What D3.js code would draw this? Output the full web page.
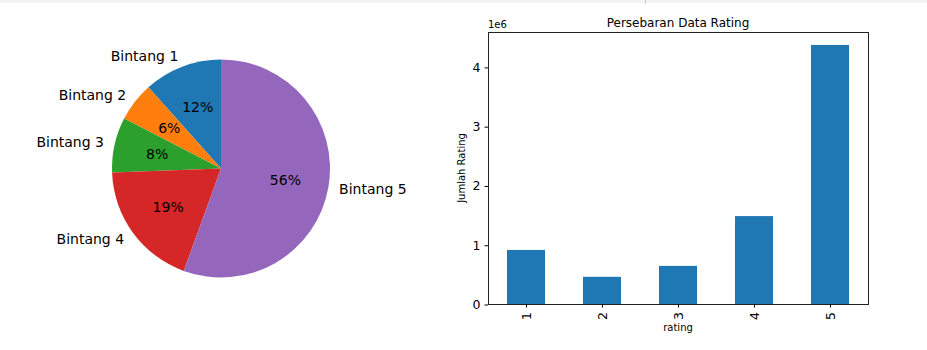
<!DOCTYPE html>
<html><head><meta charset="utf-8">
<script src="https://cdn.jsdelivr.net/npm/d3@7"></script>
<style>body{margin:0;background:#fff;}svg{display:block;font-family:"DejaVu Sans",sans-serif;}</style>
</head><body>
<svg id="c" width="927" height="350"></svg>
<script>
const pieLabels = ["Bintang 1","Bintang 2","Bintang 3","Bintang 4","Bintang 5"];
const ratingCats = ["1","2","3","4","5"];
const ratingCounts = [912000, 459000, 643000, 1483000, 4370000];
const yTicks = [0, 1, 2, 3, 4];
const colors = ["#1f77b4","#ff7f0e","#2ca02c","#d62728","#9467bd"];

const svg = d3.select("#c");
svg.append("rect").attr("x",0).attr("y",0).attr("width",927).attr("height",3).attr("fill","#f3f3f3");
svg.append("line").attr("x1",645.5).attr("x2",645.5).attr("y1",0).attr("y2",4).attr("stroke","#ccc");

// Pie
const cx = 221, cy = 168.5, r = 109;
const pie = d3.pie().sort(null).startAngle(0).endAngle(-2*Math.PI);
const arcs = pie(ratingCounts);
const total = d3.sum(ratingCounts);
const arc = d3.arc().innerRadius(0).outerRadius(r);
const pg = svg.append("g").attr("transform",`translate(${cx},${cy})`);
pg.selectAll("path").data(arcs).enter().append("path")
  .attr("d",arc).attr("fill",(d,i)=>colors[i]);
arcs.forEach((d,i)=>{
  const a = (d.startAngle+d.endAngle)/2;
  const x = Math.sin(a), y = -Math.cos(a);
  pg.append("text").attr("x",x*r*1.1).attr("y",y*r*1.1)
    .attr("text-anchor", x>0?"start":"end").attr("dominant-baseline","central")
    .attr("font-size",14).attr("fill","#000").text(pieLabels[i]);
  pg.append("text").attr("x",x*r*0.6).attr("y",y*r*0.6)
    .attr("text-anchor","middle").attr("dominant-baseline","central")
    .attr("font-size",14).attr("fill","#000").text(Math.round(100*d.value/total)+"%");
});

// Bar chart
const L=488, R=868, T=32, B=304;
const x = d3.scaleBand().domain(ratingCats).range([L,R]).paddingInner(0.5).paddingOuter(0.25);
const y = d3.scaleLinear().domain([0, 4.5887e6]).range([B,T]);
const bg = svg.append("g");
bg.selectAll("rect.bar").data(ratingCounts).enter().append("rect").attr("class","bar")
  .attr("x",(d,i)=>x(ratingCats[i])).attr("width",x.bandwidth())
  .attr("y",d=>y(d)).attr("height",d=>B-y(d)).attr("fill","#1f77b4");
bg.append("rect").attr("x",L+0.5).attr("y",T+0.5).attr("width",R-L).attr("height",B-T)
  .attr("fill","none").attr("stroke","#222").attr("stroke-width",1);
const yAxis = bg.append("g").attr("transform",`translate(${L},0.5)`)
  .call(d3.axisLeft(y).tickValues(yTicks.map(v=>v*1e6)).tickFormat(v=>String(v/1e6)).tickSize(3.5).tickPadding(4));
yAxis.select(".domain").remove();
yAxis.selectAll("text").attr("font-size",12.5).attr("font-family","DejaVu Sans");
const xAxis = bg.append("g").attr("transform",`translate(0.5,${B})`)
  .call(d3.axisBottom(x).tickSize(3.5).tickPadding(4));
xAxis.select(".domain").remove();
xAxis.selectAll("text").attr("font-size",12.5).attr("font-family","DejaVu Sans")
  .each(function(){
    d3.select(this).attr("transform","rotate(-90)").attr("text-anchor","end")
     .attr("x",-8).attr("y",0).attr("dy","0.35em");
  });
bg.append("text").attr("x",L).attr("y",T-4).attr("font-size",10).text("1e6");
bg.append("text").attr("x",(L+R)/2).attr("y",T-5).attr("text-anchor","middle").attr("font-size",12).text("Persebaran Data Rating");
bg.append("text").attr("x",(L+R)/2).attr("y",331).attr("text-anchor","middle").attr("font-size",10).text("rating");
bg.append("text").attr("transform",`translate(465,${(T+B)/2}) rotate(-90)`).attr("text-anchor","middle").attr("font-size",10).text("Jumlah Rating");
</script>
</body></html>
